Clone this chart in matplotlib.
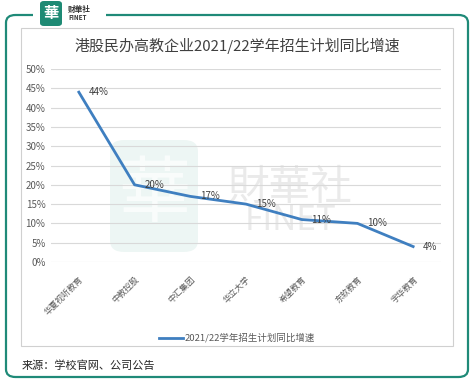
import matplotlib
matplotlib.use("Agg")
from matplotlib import pyplot as plt
from matplotlib.patches import FancyBboxPatch, Rectangle
from matplotlib.ticker import PercentFormatter, MultipleLocator

plt.rcParams['font.family'] = ['Noto Sans CJK SC', 'DejaVu Sans']

## Data ##
companies = ["华夏视听教育", "中教控股", "中汇集团", "华立大学", "希望教育", "东软教育", "宇华教育"]
growth = [44, 20, 17, 15, 11, 10, 4]
series_name = "2021/22学年招生计划同比增速"
title = "港股民办高教企业2021/22学年招生计划同比增速"
source = "来源：学校官网、公司公告"

LINE_COLOR = "#3f7fc0"
TEXT_COLOR = "#595959"
FRAME_COLOR = "#1f8a78"

W, H = 474, 383
fig = plt.figure(figsize=(W / 100, H / 100), dpi=100)

def fx(px):
    return px / W

def fy(py):
    return 1 - py / H

# outer rounded frame
frame = FancyBboxPatch((fx(6), fy(377)), fx(462), fy(15) - fy(377),
                       boxstyle="round,pad=0,rounding_size=0.02",
                       transform=fig.transFigure, fill=False,
                       edgecolor=FRAME_COLOR, linewidth=1.6)
fig.patches.append(frame)
# gap in top border for logo
fig.patches.append(Rectangle((fx(33), fy(20)), fx(73), fy(8) - fy(20),
                             transform=fig.transFigure, facecolor="white",
                             edgecolor="none", zorder=2))
# logo
fig.patches.append(FancyBboxPatch((fx(40), fy(26)), fx(22), fy(1) - fy(26),
                                  boxstyle="round,pad=0,rounding_size=0.008",
                                  transform=fig.transFigure, facecolor="#1e8a74",
                                  edgecolor="none", zorder=3))
fig.text(fx(51), fy(13), "華", color="white", fontsize=11, ha="center", va="center",
         fontweight="bold", zorder=4)
fig.text(fx(68), fy(9), "财華社", color="#333333", fontsize=5.5, ha="left", va="center",
         fontweight="bold", zorder=4)
fig.text(fx(68), fy(17), "FINET", color="#333333", fontsize=4.5, ha="left", va="center",
         fontweight="bold", zorder=4)

# inner white panel
fig.patches.append(Rectangle((fx(21), fy(346)), fx(432), fy(28) - fy(346),
                             transform=fig.transFigure, facecolor="white",
                             edgecolor="#d0d0d0", linewidth=0.8, zorder=1))

fig.text(0.5, fy(46), title, fontsize=10.8, color="#404040", ha="center", va="center")
fig.text(fx(22), fy(366), source, fontsize=8, color="#262626", ha="left", va="center")

# watermark
fig.patches.append(FancyBboxPatch((fx(110), fy(252)), fx(88), fy(140) - fy(252),
                                  boxstyle="round,pad=0,rounding_size=0.03",
                                  transform=fig.transFigure, facecolor="#a8d4c8",
                                  alpha=0.2, edgecolor="none", zorder=2))
fig.text(fx(154), fy(196), "華", fontsize=52, color="white", alpha=0.7,
         ha="center", va="center", zorder=2)
fig.text(fx(290), fy(188), "財華社", fontsize=30, color="#dcdcdc", alpha=0.6,
         ha="center", va="center", zorder=2)
fig.text(fx(290), fy(220), "FINET", fontsize=24, color="#dcdcdc", alpha=0.6,
         ha="center", va="center", zorder=2)

# chart
ax = fig.add_axes([fx(51), fy(262), fx(441) - fx(51), fy(69) - fy(262)])
ax.set_zorder(3)
ax.patch.set_alpha(0)
x = list(range(len(companies)))
ax.plot(x, growth, color=LINE_COLOR, linewidth=2, label=series_name)
for xi, v in zip(x, growth):
    ax.annotate(f"{v}%", (xi, v), xytext=(7, 0), textcoords="offset points",
                fontsize=7, color="#404040", ha="left", va="center")

ax.set_xlim(-0.5, len(companies) - 0.5)
ax.set_ylim(0, 50)
ax.yaxis.set_major_locator(MultipleLocator(5))
ax.yaxis.set_major_formatter(PercentFormatter(decimals=0))
ax.set_xticks(x)
ax.set_xticklabels(companies, rotation=45, ha="right", va="top",
                   rotation_mode="anchor", fontsize=6, color=TEXT_COLOR)
ax.tick_params(axis="y", labelsize=7, colors=TEXT_COLOR, length=0, pad=4)
ax.tick_params(axis="x", length=0, pad=9)
ax.grid(axis="y", color="#d9d9d9", linewidth=0.8)
ax.set_axisbelow(True)
for s in ax.spines.values():
    s.set_visible(False)

leg = fig.legend(loc="center", bbox_to_anchor=(0.5, fy(338)), frameon=False,
                 fontsize=6.8, handlelength=2.6, handletextpad=0.2)
for t in leg.get_texts():
    t.set_color(TEXT_COLOR)

fig.savefig("out.png", dpi=100)
